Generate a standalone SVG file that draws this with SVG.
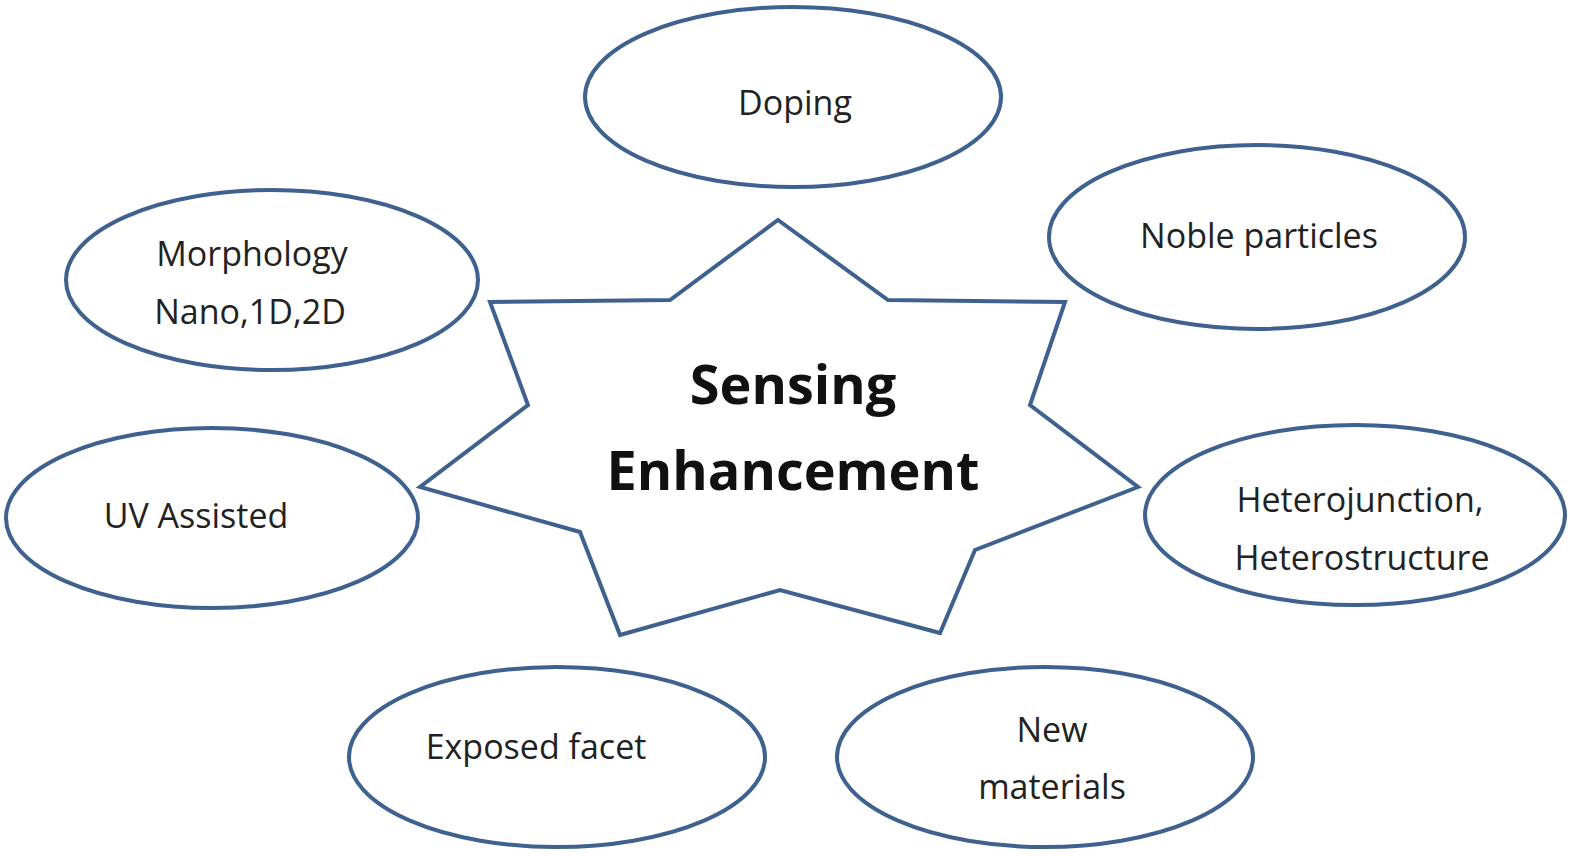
<svg xmlns="http://www.w3.org/2000/svg" width="1570" height="856" viewBox="0 0 1570 856">
<style>
.n{fill:#fff;stroke:#3f6190;stroke-width:4}
.t{font-family:"Open Sans","DejaVu Sans",sans-serif;font-size:34px;fill:#222;text-anchor:middle}
.h{font-family:"Open Sans","DejaVu Sans",sans-serif;font-size:54px;font-weight:bold;fill:#111;text-anchor:middle}
</style>
<rect width="1570" height="856" fill="#fff"/>
<g id="center">
<polygon class="n" points="778,220 888,300 1065,302 1030,405 1138,487 975,550 940,633 780,590 620,635 580,532 420,487 528,405 490,302 670,300"/>
<text class="h" x="793" y="404">Sensing</text>
<text class="h" x="793" y="490">Enhancement</text>
</g>
<g id="doping"><ellipse class="n" cx="793" cy="97" rx="208" ry="90"/><text class="t" x="795" y="115">Doping</text></g>
<g id="noble"><ellipse class="n" cx="1257" cy="237" rx="208" ry="92"/><text class="t" x="1259" y="248">Noble particles</text></g>
<g id="morph"><ellipse class="n" cx="272" cy="280" rx="206" ry="90"/><text class="t" x="252" y="266">Morphology</text><text class="t" x="250" y="324">Nano,1D,2D</text></g>
<g id="uv"><ellipse class="n" cx="212" cy="518" rx="206" ry="90"/><text class="t" x="196" y="528">UV Assisted</text></g>
<g id="hetero"><ellipse class="n" cx="1355" cy="515" rx="210" ry="90"/><text class="t" x="1360" y="512">Heterojunction,</text><text class="t" x="1362" y="570">Heterostructure</text></g>
<g id="exposed"><ellipse class="n" cx="557" cy="757" rx="208" ry="90"/><text class="t" x="536" y="759">Exposed facet</text></g>
<g id="newmat"><ellipse class="n" cx="1045" cy="757" rx="208" ry="90"/><text class="t" x="1052" y="742">New</text><text class="t" x="1052" y="799">materials</text></g>
<g id="connectors"></g>
</svg>
